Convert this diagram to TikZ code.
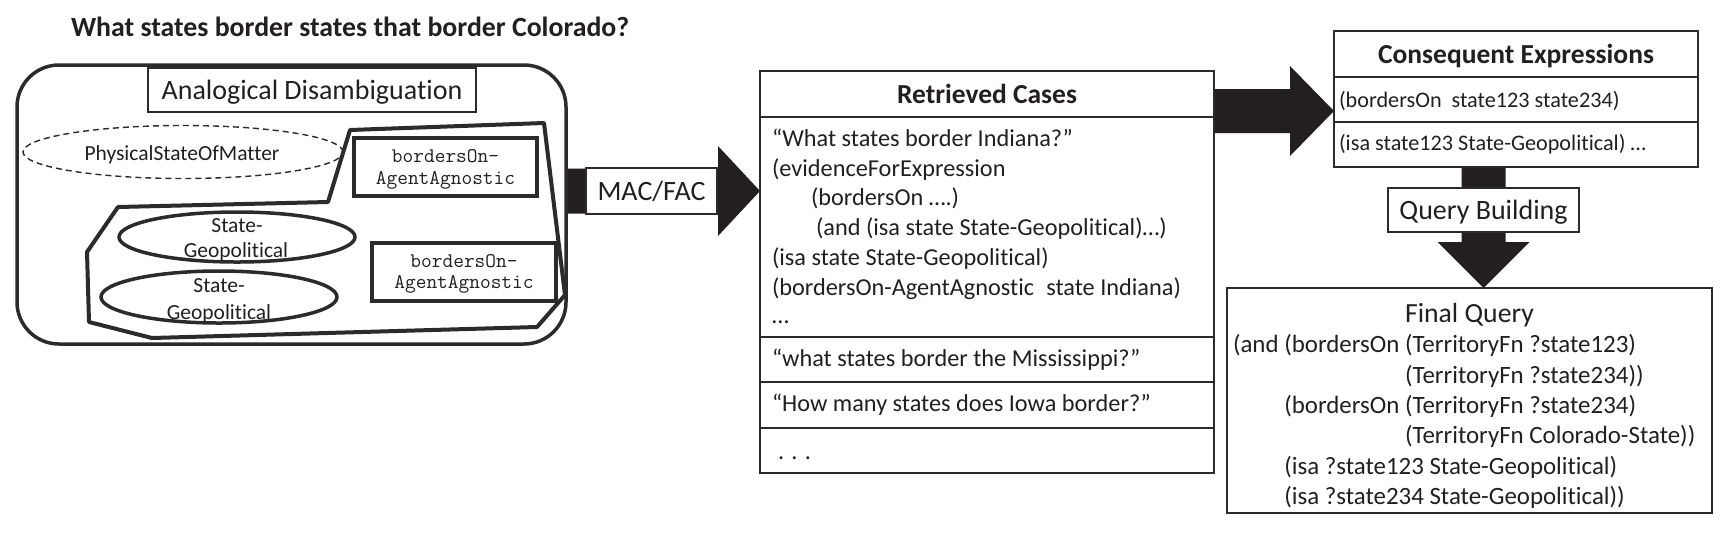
\documentclass[tikz,border=0pt]{standalone}
\usepackage{fontspec}
\setmainfont{Carlito}[Ligatures={NoCommon,NoContextual}]
\usetikzlibrary{shapes.geometric,calc,backgrounds}
\definecolor{ink}{HTML}{231F20}
\definecolor{ln}{HTML}{2B2B2B}
\begin{document}
\begin{tikzpicture}[x=1pt,y=-1pt,
  every node/.style={inner sep=0pt,outer sep=0pt,text=ink},
  secbox/.style={draw=ln,line width=1.6pt,anchor=north west},
  tbox/.style={draw=ln,line width=4pt,anchor=north west},
  capc/.style={text height=18pt,text depth=0pt},
  hd/.style={font=\fontsize{27.5}{30}\selectfont\bfseries},
  lbl/.style={font=\fontsize{28}{30}\selectfont},
  rct/.style={font=\fontsize{24.3}{30}\selectfont,anchor=base west},
  cet/.style={font=\fontsize{22.2}{26}\selectfont,anchor=base west},
  fqt/.style={font=\fontsize{24.9}{28}\selectfont,anchor=base west},
  smt/.style={font=\fontsize{21.5}{25}\selectfont,anchor=base},
  monot/.style={font=\ttfamily\fontsize{20.8}{22}\selectfont,anchor=base},
  blk/.style={fill=ink}]
\useasboundingbox (0,0) rectangle (1731,558);

% title
\node[font=\fontsize{27.8}{30}\selectfont\bfseries,anchor=base west] (title) at (71,36.5) {What states border states that border Colorado?};

% left panel
\node[draw=ln,line width=3.5pt,rounded corners=42pt,minimum width=549pt,minimum height=279pt,anchor=north west] (outer) at (17,65) {};
\node[secbox,line width=1.5pt,fill=white,minimum width=328pt,minimum height=44pt,lbl,capc] (analog) at (148,68) {Analogical Disambiguation};
\node[ellipse,draw=ln,line width=1.4pt,dash pattern=on 6pt off 4pt,minimum width=320pt,minimum height=53pt] (psom) at (183,152) {};
\node[smt] (psomt) at (182,160) {PhysicalStateOfMatter};
\draw[ln,line width=4pt,line join=round] (350,130) -- (544,123) -- (565,295) -- (537,327) -- (152,338) -- (89,322) -- (87,252) -- (118,207) -- (328,202) -- cycle;
\node[tbox,minimum width=183pt,minimum height=58pt] (bo1) at (354,138) {};
\node[monot] (bo1a) at (445.5,162.6) {bordersOn-};
\node[monot] (bo1b) at (445.5,184.6) {AgentAgnostic};
\node[tbox,minimum width=184pt,minimum height=58pt] (bo2) at (372,243) {};
\node[monot] (bo2a) at (464,267.6) {bordersOn-};
\node[monot] (bo2b) at (464,288.6) {AgentAgnostic};
\node[ellipse,draw=ln,line width=3.5pt,minimum width=236pt,minimum height=50pt] (sg1) at (237,237) {};
\node[smt] (sg1a) at (237,232) {State-};
\node[smt] (sg1b) at (236,257) {Geopolitical};
\node[ellipse,draw=ln,line width=3.5pt,minimum width=236pt,minimum height=52pt] (sg2) at (219,297) {};
\node[smt] (sg2a) at (219,292) {State-};
\node[smt] (sg2b) at (219,319) {Geopolitical};

% MAC/FAC
\node[secbox,line width=1.5pt,fill=white,minimum width=131pt,minimum height=46pt,lbl,capc] (macfac) at (586,168) {MAC/FAC};

% Retrieved cases
\node[secbox,minimum width=454pt,minimum height=46pt,hd,capc] (rchead) at (760,71) {Retrieved Cases};
\node[secbox,minimum width=454pt,minimum height=220pt] (rcbody) at (760,117) {};
\node[secbox,minimum width=454pt,minimum height=45pt] (rc2) at (760,337) {};
\node[secbox,minimum width=454pt,minimum height=46pt] (rc3) at (760,382) {};
\node[secbox,minimum width=454pt,minimum height=45pt] (rc4) at (760,428) {};
\node[rct] (rl1) at (772,146) {“What states border Indiana?”};
\node[rct] (rl2) at (772,176) {(evidenceForExpression};
\node[rct] (rl3) at (811,205) {(bordersOn ….)};
\node[rct] (rl4) at (816,235) {(and (isa state State-Geopolitical)…)};
\node[rct] (rl5) at (772,265) {(isa state State-Geopolitical)};
\node[rct] (rl6) at (772,295) {(bordersOn-AgentAgnostic\hspace{0.5em}state Indiana)};
\node[rct] (rl7) at (772,323) {…};
\node[rct] (rl8) at (772,366) {“what states border the Mississippi?”};
\node[rct] (rl9) at (772,411) {“How many states does Iowa border?”};
\node[rct] (rl10) at (778,459) {. . .};

% Consequent expressions
\node[secbox,minimum width=364pt,minimum height=46pt,hd,capc] (cehead) at (1334,31) {Consequent Expressions};
\node[secbox,minimum width=364pt,minimum height=45pt] (ce1) at (1334,77) {};
\node[secbox,minimum width=364pt,minimum height=45pt] (ce2) at (1334,122) {};
\node[cet] (cel1) at (1339,107) {(bordersOn\hspace{0.45em}state123 state234)};
\node[cet] (cel2) at (1339,150) {(isa state123 State-Geopolitical) …};

% Query building
\node[secbox,line width=1.5pt,fill=white,minimum width=191pt,minimum height=44pt,lbl,capc] (qb) at (1388,188) {Query Building};

% Final query
\node[secbox,minimum width=485pt,minimum height=225pt] (fq) at (1227,288) {};
\node[font=\fontsize{27.7}{30}\selectfont,anchor=base] (fqtitle) at (1469.5,322) {Final Query};
\node[fqt] (fq1) at (1233,352.5) {(and (bordersOn (TerritoryFn ?state123)};
\node[fqt] (fq2) at (1233,383) {\phantom{(and (bordersOn }(TerritoryFn ?state234))};
\node[fqt] (fq3) at (1233,413.3) {\phantom{(and }(bordersOn (TerritoryFn ?state234)};
\node[fqt] (fq4) at (1233,443.7) {\phantom{(and (bordersOn }(TerritoryFn Colorado-State))};
\node[fqt] (fq5) at (1233,474) {\phantom{(and }(isa ?state123 State-Geopolitical)};
\node[fqt] (fq6) at (1233,504) {\phantom{(and }(isa ?state234 State-Geopolitical))};

% block arrows
\begin{scope}[on background layer]
\fill[white] (0,0) rectangle (1731,558);
\coordinate (a1s) at (outer.east |- macfac.center);
\coordinate (a1t) at (rcbody.west |- macfac.center);
\fill[blk] ($(a1s)+(0,-22.5)$) -- ($(a1t)+(-42,-22.5)$) -- ($(a1t)+(-42,-45)$) -- (a1t) -- ($(a1t)+(-42,45)$) -- ($(a1t)+(-42,22.5)$) -- ($(a1s)+(0,22.5)$) -- cycle;
\coordinate (a2s) at ($(rchead.east)+(0,17)$);
\coordinate (a2t) at (ce1.west |- a2s);
\fill[blk] ($(a2s)+(0,-22)$) -- ($(a2t)+(-44,-22)$) -- ($(a2t)+(-44,-45)$) -- (a2t) -- ($(a2t)+(-44,45)$) -- ($(a2t)+(-44,22)$) -- ($(a2s)+(0,22)$) -- cycle;
\coordinate (a3s) at (qb.center |- ce2.south);
\coordinate (a3t) at (qb.center |- fq.north);
\fill[blk] ($(a3s)+(-22,0)$) -- ($(a3t)+(-22,-46)$) -- ($(a3t)+(-46,-46)$) -- (a3t) -- ($(a3t)+(46,-46)$) -- ($(a3t)+(22,-46)$) -- ($(a3s)+(22,0)$) -- cycle;
\end{scope}
\end{tikzpicture}
\end{document}
